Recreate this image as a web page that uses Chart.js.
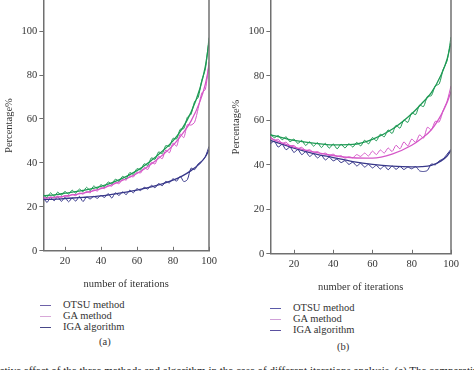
<!DOCTYPE html>
<html>
<head>
<meta charset="utf-8">
<script src="https://cdn.jsdelivr.net/npm/chart.js@4.4.1/dist/chart.umd.min.js"></script>
<style>
  html, body { margin: 0; padding: 0; background: #fff; }
  body { width: 474px; height: 370px; position: relative; overflow: hidden; font-family: "Liberation Serif", serif; color: #333; }
  .panel { position: absolute; }
  .legend { position: absolute; font-size: 10.5px; line-height: 10.8px; }
  .legend div { white-space: nowrap; }
  .legend span { display: inline-block; width: 11px; height: 1px; vertical-align: middle; margin-right: 12px; }
  .tag { position: absolute; font-size: 10.5px; }
  .caption { position: absolute; left: -4px; top: 364px; font-size: 11px; white-space: nowrap; color: #222; }
</style>
</head>
<body>
<div class="panel" style="left:0;top:-8px;width:224px;height:302px"><canvas id="chartA"></canvas></div>
<div class="panel" style="left:227px;top:-8px;width:247px;height:305px"><canvas id="chartB"></canvas></div>

<div class="legend" style="left:40px;top:300px">
  <div><span style="background:#6e62a8"></span>OTSU method</div>
  <div><span style="background:#d8a8d8"></span>GA method</div>
  <div><span style="background:#484888"></span>IGA algorithm</div>
</div>
<div class="legend" style="left:270px;top:303px">
  <div><span style="background:#5a5aa8"></span>OTSU method</div>
  <div><span style="background:#d0a0d8"></span>GA method</div>
  <div><span style="background:#5a50a0"></span>IGA algorithm</div>
</div>
<div class="tag" style="left:99px;top:336px">(a)</div>
<div class="tag" style="left:337px;top:341px">(b)</div>
<div class="caption">rative effect of the three methods and algorithm in the case of different iterations analysis. (a) The comparative effect</div>

<script>
// iterations
const iterNoisy = [8, 10, 12, 14, 16, 18, 20, 22, 24, 26, 28, 30, 32, 34, 36, 38, 40, 42, 44, 46, 48, 50, 52, 54,
  56, 58, 60, 62, 64, 66, 68, 70, 72, 74, 76, 78, 80, 82, 84, 86, 88, 90, 92, 94, 96, 98, 100]
const iterFit = [8, 15, 20, 30, 40, 50, 60, 70, 80, 85, 90, 95, 98, 100]
const xTicks = [20, 40, 60, 80, 100]
const yTicks = [0, 20, 40, 60, 80, 100]

// panel (a)
const greenA = [25.5, 24.3, 26.4, 24.8, 26.7, 25.3, 27.0, 25.8, 27.6, 26.2, 28.1, 26.9, 28.9, 27.4, 29.5, 28.3,
  30.1, 29.2, 31.3, 30.4, 32.6, 31.7, 33.9, 32.9, 35.6, 34.8, 37.4, 36.8, 39.6, 38.9, 42.3, 41.6, 45.0, 44.2,
  47.9, 47.5, 51.2, 50.9, 55.3, 55.6, 60.8, 62.1, 67.9, 69.8, 77.6, 82.8, 97.0]
const pinkA = [24.4, 23.9, 24.6, 24.0, 24.9, 24.3, 25.2, 24.7, 25.7, 25.1, 26.3, 25.8, 27.0, 26.4, 27.8, 27.2,
  28.7, 28.3, 29.9, 29.4, 31.2, 30.5, 32.6, 32.2, 34.1, 33.6, 35.8, 35.4, 37.9, 37.0, 40.3, 39.5, 43.0, 41.9,
  45.9, 44.6, 49.0, 47.6, 53.1, 51.5, 57.4, 57.2, 58.5, 64.8, 71.8, 73.5, 86.0]
const navyA = [24.5, 22.0, 24.2, 22.8, 24.6, 22.5, 24.3, 22.3, 24.0, 22.6, 24.8, 22.4, 24.5, 23.6, 24.8, 23.9,
  25.2, 24.3, 26.0, 24.0, 26.4, 25.2, 26.8, 25.6, 27.6, 26.4, 28.3, 27.4, 28.9, 28.1, 29.8, 28.7, 30.6, 29.6,
  31.6, 30.9, 32.8, 31.7, 33.9, 31.5, 32.4, 37.6, 36.9, 39.6, 40.8, 42.9, 47.5]
const greenFitA = [25, 25.6, 26.2, 27.5, 29.3, 32.3, 36.5, 42.5, 50, 55.5, 63, 74, 84, 95]
const pinkFitA = [24, 24.4, 24.9, 26.2, 28.3, 31.4, 35.2, 40.8, 48, 53, 59, 68, 76, 84]
const navyFitA = [23.3, 23.5, 23.8, 24.3, 25, 26.2, 27.6, 29.5, 32.2, 34, 36.5, 39.8, 42.8, 46]

// panel (b)
const greenB = [54.0, 52.2, 53.2, 51.3, 52.6, 50.4, 51.6, 49.6, 51.0, 48.7, 50.4, 48.4, 50.0, 47.8, 49.7, 47.5,
  49.4, 47.2, 49.3, 47.6, 49.5, 48.0, 50.1, 48.5, 51.1, 49.4, 52.3, 50.8, 53.8, 52.6, 55.7, 54.1, 57.8, 56.5,
  60.2, 59.1, 63.4, 62.6, 66.9, 66.2, 70.8, 71.1, 75.5, 76.4, 82.9, 86.8, 97.5]
const pinkB = [52.8, 51.0, 51.5, 49.6, 50.2, 48.6, 48.7, 47.3, 47.9, 46.4, 46.8, 45.6, 46.0, 44.9, 45.3, 44.2,
  44.8, 43.7, 44.1, 43.0, 43.6, 43.2, 44.6, 43.8, 45.3, 44.0, 46.2, 44.6, 46.7, 45.3, 47.6, 46.0, 48.8, 47.2,
  50.3, 48.5, 51.6, 50.1, 53.5, 52.0, 56.9, 55.8, 59.6, 59.3, 64.5, 68.6, 75.5]
const navyB = [49.5, 50.6, 48.0, 49.2, 46.8, 48.0, 45.6, 46.9, 44.6, 45.9, 43.8, 45.0, 43.1, 44.3, 42.2, 43.5,
  41.8, 42.6, 41.0, 41.9, 40.2, 41.2, 39.5, 40.7, 39.0, 40.2, 38.6, 39.8, 38.1, 39.6, 37.8, 39.5, 38.0, 39.3,
  37.9, 39.0, 38.2, 39.2, 37.3, 37.0, 37.5, 40.4, 40.0, 41.8, 42.7, 44.8, 47.0]
const greenFitB = [53.5, 52, 51, 49.8, 49, 49.2, 51.5, 56, 63, 67.5, 72.5, 80.5, 87.5, 95]
const pinkFitB = [52, 49.5, 48, 45.8, 44.2, 43.2, 43, 44.8, 48.8, 51.8, 55.8, 62.5, 68, 73]
const navyFitB = [51, 49, 47.5, 45.1, 43.3, 41.5, 40.2, 39.4, 39.1, 39.2, 39.8, 41.8, 44, 46.5]

const GREEN = '#1f9a55'
const PINK = '#d558c8'
const NAVY = '#38388a'
const AXIS = '#707070'
const FONT = { family: '"Liberation Serif", serif', size: 10.5 }

function pts(xs, ys) {
  return xs.map((x, i) => ({ x: x, y: ys[i] }))
}

function noisy(ys, color) {
  return { data: pts(iterNoisy, ys), borderColor: color, borderWidth: 1, tension: 0.25 }
}

function fit(ys, color) {
  return { data: pts(iterFit, ys), borderColor: color, borderWidth: 1.3, cubicInterpolationMode: 'monotone' }
}

// right-hand frame line and inward x ticks
const framePlugin = {
  id: 'frame',
  afterDraw(chart) {
    const { ctx, chartArea: a } = chart
    const x = chart.scales.x
    ctx.save()
    ctx.strokeStyle = AXIS
    ctx.lineWidth = 1.5
    ctx.beginPath()
    ctx.moveTo(a.right, 0)
    ctx.lineTo(a.right, a.bottom)
    ctx.stroke()
    ctx.lineWidth = 1
    ctx.beginPath()
    x.ticks.forEach((t) => {
      const px = Math.round(x.getPixelForValue(t.value)) + 0.5
      ctx.moveTo(px, a.bottom)
      ctx.lineTo(px, a.bottom - 4)
    })
    ctx.stroke()
    ctx.restore()
  }
}

function makeChart(id, sets, padRight) {
  return new Chart(document.getElementById(id), {
    type: 'line',
    data: { datasets: sets },
    plugins: [framePlugin],
    options: {
      responsive: true,
      maintainAspectRatio: false,
      animation: false,
      events: [],
      layout: { padding: { top: 0, right: padRight, bottom: 3, left: 0 } },
      elements: { point: { radius: 0 } },
      plugins: { legend: { display: false }, tooltip: { enabled: false } },
      scales: {
        x: {
          type: 'linear',
          min: 8,
          max: 100,
          afterBuildTicks: (s) => { s.ticks = xTicks.map((v) => ({ value: v })) },
          grid: { display: true, drawOnChartArea: false, drawTicks: false },
          border: { color: AXIS, width: 1.5 },
          ticks: { color: '#333', font: FONT, padding: 4, maxRotation: 0 },
          title: { display: true, text: 'number of iterations', color: '#333', font: FONT, padding: { top: 7, bottom: 0 } }
        },
        y: {
          min: 0,
          max: 114,
          afterBuildTicks: (s) => { s.ticks = yTicks.map((v) => ({ value: v })) },
          grid: { display: true, drawOnChartArea: false, tickLength: 4, color: AXIS },
          border: { color: AXIS, width: 1.5 },
          ticks: { color: '#333', font: FONT, padding: 2 },
          title: { display: true, text: 'Percentage%', color: '#333', font: FONT, padding: { top: 3, bottom: 4 } }
        }
      }
    }
  })
}

makeChart('chartA', [
  noisy(greenA, GREEN), fit(greenFitA, GREEN),
  noisy(pinkA, PINK), fit(pinkFitA, PINK),
  noisy(navyA, NAVY), fit(navyFitA, NAVY)
], 15)

makeChart('chartB', [
  noisy(greenB, GREEN), fit(greenFitB, GREEN),
  noisy(pinkB, PINK), fit(pinkFitB, PINK),
  noisy(navyB, NAVY), fit(navyFitB, NAVY)
], 23)
</script>
</body>
</html>
